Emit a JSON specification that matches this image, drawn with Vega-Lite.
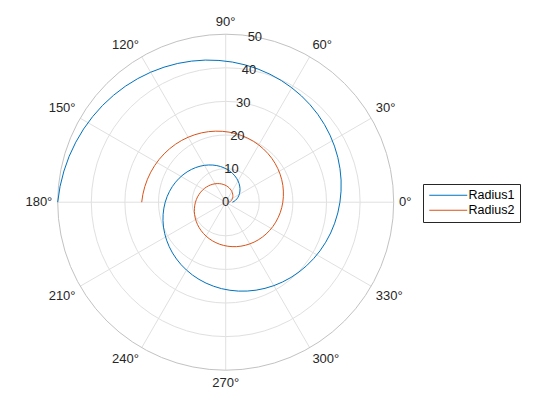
{
  "$schema": "https://vega.github.io/schema/vega-lite/v6.json",
  "width": 560,
  "height": 420,
  "padding": 0,
  "autosize": {"type": "none"},
  "background": "white",
  "config": {"view": {"stroke": null}, "font": "Liberation Sans"},
  "datasets": {
    "spiral": [
      {"t":0,"Radius1":2,"Radius2":1},{"t":5.45,"Radius1":2.48,"Radius2":1.24},{"t":10.91,"Radius1":2.97,"Radius2":1.48},{"t":16.36,"Radius1":3.45,"Radius2":1.73},{"t":21.82,"Radius1":3.94,"Radius2":1.97},
      {"t":27.27,"Radius1":4.42,"Radius2":2.21},{"t":32.73,"Radius1":4.91,"Radius2":2.45},{"t":38.18,"Radius1":5.39,"Radius2":2.7},{"t":43.64,"Radius1":5.88,"Radius2":2.94},{"t":49.09,"Radius1":6.36,"Radius2":3.18},
      {"t":54.55,"Radius1":6.85,"Radius2":3.42},{"t":60,"Radius1":7.33,"Radius2":3.67},{"t":65.45,"Radius1":7.82,"Radius2":3.91},{"t":70.91,"Radius1":8.3,"Radius2":4.15},{"t":76.36,"Radius1":8.79,"Radius2":4.39},
      {"t":81.82,"Radius1":9.27,"Radius2":4.64},{"t":87.27,"Radius1":9.76,"Radius2":4.88},{"t":92.73,"Radius1":10.24,"Radius2":5.12},{"t":98.18,"Radius1":10.73,"Radius2":5.36},{"t":103.64,"Radius1":11.21,"Radius2":5.61},
      {"t":109.09,"Radius1":11.7,"Radius2":5.85},{"t":114.55,"Radius1":12.18,"Radius2":6.09},{"t":120,"Radius1":12.67,"Radius2":6.33},{"t":125.45,"Radius1":13.15,"Radius2":6.58},{"t":130.91,"Radius1":13.64,"Radius2":6.82},
      {"t":136.36,"Radius1":14.12,"Radius2":7.06},{"t":141.82,"Radius1":14.61,"Radius2":7.3},{"t":147.27,"Radius1":15.09,"Radius2":7.55},{"t":152.73,"Radius1":15.58,"Radius2":7.79},{"t":158.18,"Radius1":16.06,"Radius2":8.03},
      {"t":163.64,"Radius1":16.55,"Radius2":8.27},{"t":169.09,"Radius1":17.03,"Radius2":8.52},{"t":174.55,"Radius1":17.52,"Radius2":8.76},{"t":180,"Radius1":18,"Radius2":9},{"t":185.45,"Radius1":18.48,"Radius2":9.24},
      {"t":190.91,"Radius1":18.97,"Radius2":9.48},{"t":196.36,"Radius1":19.45,"Radius2":9.73},{"t":201.82,"Radius1":19.94,"Radius2":9.97},{"t":207.27,"Radius1":20.42,"Radius2":10.21},{"t":212.73,"Radius1":20.91,"Radius2":10.45},
      {"t":218.18,"Radius1":21.39,"Radius2":10.7},{"t":223.64,"Radius1":21.88,"Radius2":10.94},{"t":229.09,"Radius1":22.36,"Radius2":11.18},{"t":234.55,"Radius1":22.85,"Radius2":11.42},{"t":240,"Radius1":23.33,"Radius2":11.67},
      {"t":245.45,"Radius1":23.82,"Radius2":11.91},{"t":250.91,"Radius1":24.3,"Radius2":12.15},{"t":256.36,"Radius1":24.79,"Radius2":12.39},{"t":261.82,"Radius1":25.27,"Radius2":12.64},{"t":267.27,"Radius1":25.76,"Radius2":12.88},
      {"t":272.73,"Radius1":26.24,"Radius2":13.12},{"t":278.18,"Radius1":26.73,"Radius2":13.36},{"t":283.64,"Radius1":27.21,"Radius2":13.61},{"t":289.09,"Radius1":27.7,"Radius2":13.85},{"t":294.55,"Radius1":28.18,"Radius2":14.09},
      {"t":300,"Radius1":28.67,"Radius2":14.33},{"t":305.45,"Radius1":29.15,"Radius2":14.58},{"t":310.91,"Radius1":29.64,"Radius2":14.82},{"t":316.36,"Radius1":30.12,"Radius2":15.06},{"t":321.82,"Radius1":30.61,"Radius2":15.3},
      {"t":327.27,"Radius1":31.09,"Radius2":15.55},{"t":332.73,"Radius1":31.58,"Radius2":15.79},{"t":338.18,"Radius1":32.06,"Radius2":16.03},{"t":343.64,"Radius1":32.55,"Radius2":16.27},{"t":349.09,"Radius1":33.03,"Radius2":16.52},
      {"t":354.55,"Radius1":33.52,"Radius2":16.76},{"t":360,"Radius1":34,"Radius2":17},{"t":365.45,"Radius1":34.48,"Radius2":17.24},{"t":370.91,"Radius1":34.97,"Radius2":17.48},{"t":376.36,"Radius1":35.45,"Radius2":17.73},
      {"t":381.82,"Radius1":35.94,"Radius2":17.97},{"t":387.27,"Radius1":36.42,"Radius2":18.21},{"t":392.73,"Radius1":36.91,"Radius2":18.45},{"t":398.18,"Radius1":37.39,"Radius2":18.7},{"t":403.64,"Radius1":37.88,"Radius2":18.94},
      {"t":409.09,"Radius1":38.36,"Radius2":19.18},{"t":414.55,"Radius1":38.85,"Radius2":19.42},{"t":420,"Radius1":39.33,"Radius2":19.67},{"t":425.45,"Radius1":39.82,"Radius2":19.91},{"t":430.91,"Radius1":40.3,"Radius2":20.15},
      {"t":436.36,"Radius1":40.79,"Radius2":20.39},{"t":441.82,"Radius1":41.27,"Radius2":20.64},{"t":447.27,"Radius1":41.76,"Radius2":20.88},{"t":452.73,"Radius1":42.24,"Radius2":21.12},{"t":458.18,"Radius1":42.73,"Radius2":21.36},
      {"t":463.64,"Radius1":43.21,"Radius2":21.61},{"t":469.09,"Radius1":43.7,"Radius2":21.85},{"t":474.55,"Radius1":44.18,"Radius2":22.09},{"t":480,"Radius1":44.67,"Radius2":22.33},{"t":485.45,"Radius1":45.15,"Radius2":22.58},
      {"t":490.91,"Radius1":45.64,"Radius2":22.82},{"t":496.36,"Radius1":46.12,"Radius2":23.06},{"t":501.82,"Radius1":46.61,"Radius2":23.3},{"t":507.27,"Radius1":47.09,"Radius2":23.55},{"t":512.73,"Radius1":47.58,"Radius2":23.79},
      {"t":518.18,"Radius1":48.06,"Radius2":24.03},{"t":523.64,"Radius1":48.55,"Radius2":24.27},{"t":529.09,"Radius1":49.03,"Radius2":24.52},{"t":534.55,"Radius1":49.52,"Radius2":24.76},{"t":540,"Radius1":50,"Radius2":25}
    ],
    "rings": [{"r":10},{"r":20},{"r":30},{"r":40}],
    "outer": [{"r":50}],
    "angles": [
      {"a":0,"label":"0°"},{"a":30,"label":"30°"},{"a":60,"label":"60°"},{"a":90,"label":"90°"},
      {"a":120,"label":"120°"},{"a":150,"label":"150°"},{"a":180,"label":"180°"},{"a":210,"label":"210°"},
      {"a":240,"label":"240°"},{"a":270,"label":"270°"},{"a":300,"label":"300°"},{"a":330,"label":"330°"}
    ],
    "rticks": [{"v":0,"label":"0"},{"v":10,"label":"10"},{"v":20,"label":"20"},{"v":30,"label":"30"},{"v":40,"label":"40"},{"v":50,"label":"50"}]
  },
  "layer": [
    {
      "data": {"name": "rings"},
      "transform": [{"calculate": "0", "as": "cx"}, {"calculate": "0", "as": "cy"}],
      "mark": {"type": "point", "shape": "circle", "filled": false, "stroke": "#e0e0e0", "strokeWidth": 1, "opacity": 1},
      "encoding": {
        "x": {"field": "cx", "type": "quantitative", "scale": {"domain": [-67.17, 99.49], "nice": false, "zero": false}, "axis": null},
        "y": {"field": "cy", "type": "quantitative", "scale": {"domain": [-64.82, 60.18], "nice": false, "zero": false}, "axis": null},
        "size": {"field": "r", "type": "quantitative", "scale": {"type": "pow", "exponent": 2, "domain": [0, 50], "range": [0, 112896], "zero": true}, "legend": null}
      }
    },
    {
      "data": {"name": "angles"},
      "transform": [
        {"calculate": "0", "as": "cx"},
        {"calculate": "0", "as": "cy"},
        {"calculate": "50*cos(datum.a*PI/180)", "as": "ex"},
        {"calculate": "50*sin(datum.a*PI/180)", "as": "ey"}
      ],
      "mark": {"type": "rule", "stroke": "#e0e0e0", "strokeWidth": 1},
      "encoding": {
        "x": {"field": "cx", "type": "quantitative", "scale": {"domain": [-67.17, 99.49], "nice": false, "zero": false}, "axis": null},
        "y": {"field": "cy", "type": "quantitative", "scale": {"domain": [-64.82, 60.18], "nice": false, "zero": false}, "axis": null},
        "x2": {"field": "ex"},
        "y2": {"field": "ey"}
      }
    },
    {
      "data": {"name": "outer"},
      "transform": [{"calculate": "0", "as": "cx"}, {"calculate": "0", "as": "cy"}],
      "mark": {"type": "point", "shape": "circle", "filled": false, "stroke": "#c2c2c2", "strokeWidth": 1, "opacity": 1},
      "encoding": {
        "x": {"field": "cx", "type": "quantitative", "scale": {"domain": [-67.17, 99.49], "nice": false, "zero": false}, "axis": null},
        "y": {"field": "cy", "type": "quantitative", "scale": {"domain": [-64.82, 60.18], "nice": false, "zero": false}, "axis": null},
        "size": {"field": "r", "type": "quantitative", "scale": {"type": "pow", "exponent": 2, "domain": [0, 50], "range": [0, 112896], "zero": true}, "legend": null}
      }
    },
    {
      "data": {"name": "spiral"},
      "transform": [
        {"fold": ["Radius1", "Radius2"], "as": ["series", "r"]},
        {"calculate": "datum.r*cos(datum.t*PI/180)", "as": "px"},
        {"calculate": "datum.r*sin(datum.t*PI/180)", "as": "py"}
      ],
      "mark": {"type": "line", "strokeWidth": 1},
      "encoding": {
        "x": {"field": "px", "type": "quantitative", "scale": {"domain": [-67.17, 99.49], "nice": false, "zero": false}, "axis": null},
        "y": {"field": "py", "type": "quantitative", "scale": {"domain": [-64.82, 60.18], "nice": false, "zero": false}, "axis": null},
        "order": {"field": "t", "type": "quantitative"},
        "color": {
          "field": "series", "type": "nominal",
          "scale": {"domain": ["Radius1", "Radius2"], "range": ["#0072BD", "#D95319"]},
          "legend": {
            "orient": "none", "legendX": 423, "legendY": 184, "title": null,
            "symbolType": "M-1,0H6.6", "symbolSize": 100, "symbolStrokeWidth": 1,
            "labelFont": "Liberation Sans", "labelFontSize": 12.5, "labelColor": "#000000",
            "labelOffset": 28, "rowPadding": 2, "padding": 5,
            "strokeColor": "#262626", "fillColor": "#ffffff", "cornerRadius": 0,
            "labelExpr": "datum.label + '\u2003'"
          }
        }
      }
    },
    {
      "data": {"name": "angles"},
      "transform": [
        {"calculate": "cos(datum.a*PI/180)", "as": "c"},
        {"calculate": "sin(datum.a*PI/180)", "as": "s"},
        {"calculate": "51.6*datum.c", "as": "lx"},
        {"calculate": "51.6*datum.s + (datum.s > 0.01 ? 2.1 : (datum.s < -0.01 ? -2.1 : 0))", "as": "ly"},
        {"filter": "datum.c > 0.01"}
      ],
      "mark": {"type": "text", "align": "left", "baseline": "middle", "font": "Liberation Sans", "fontSize": 13, "color": "#262626"},
      "encoding": {
        "x": {"field": "lx", "type": "quantitative", "scale": {"domain": [-67.17, 99.49], "nice": false, "zero": false}, "axis": null},
        "y": {"field": "ly", "type": "quantitative", "scale": {"domain": [-64.82, 60.18], "nice": false, "zero": false}, "axis": null},
        "text": {"field": "label", "type": "nominal"}
      }
    },
    {
      "data": {"name": "angles"},
      "transform": [
        {"calculate": "cos(datum.a*PI/180)", "as": "c"},
        {"calculate": "sin(datum.a*PI/180)", "as": "s"},
        {"calculate": "51.6*datum.c", "as": "lx"},
        {"calculate": "51.6*datum.s + (datum.s > 0.01 ? 2.1 : (datum.s < -0.01 ? -2.1 : 0))", "as": "ly"},
        {"filter": "datum.c < -0.01"}
      ],
      "mark": {"type": "text", "align": "right", "baseline": "middle", "font": "Liberation Sans", "fontSize": 13, "color": "#262626"},
      "encoding": {
        "x": {"field": "lx", "type": "quantitative", "scale": {"domain": [-67.17, 99.49], "nice": false, "zero": false}, "axis": null},
        "y": {"field": "ly", "type": "quantitative", "scale": {"domain": [-64.82, 60.18], "nice": false, "zero": false}, "axis": null},
        "text": {"field": "label", "type": "nominal"}
      }
    },
    {
      "data": {"name": "angles"},
      "transform": [
        {"calculate": "cos(datum.a*PI/180)", "as": "c"},
        {"calculate": "sin(datum.a*PI/180)", "as": "s"},
        {"calculate": "0", "as": "lx"},
        {"calculate": "datum.s > 0 ? 53.7 : -53.7", "as": "ly"},
        {"filter": "abs(datum.c) <= 0.01"}
      ],
      "mark": {"type": "text", "align": "center", "baseline": "middle", "font": "Liberation Sans", "fontSize": 13, "color": "#262626"},
      "encoding": {
        "x": {"field": "lx", "type": "quantitative", "scale": {"domain": [-67.17, 99.49], "nice": false, "zero": false}, "axis": null},
        "y": {"field": "ly", "type": "quantitative", "scale": {"domain": [-64.82, 60.18], "nice": false, "zero": false}, "axis": null},
        "text": {"field": "label", "type": "nominal"}
      }
    },
    {
      "data": {"name": "rticks"},
      "transform": [
        {"calculate": "datum.v*cos(80*PI/180)", "as": "tx"},
        {"calculate": "datum.v*sin(80*PI/180)", "as": "ty"}
      ],
      "mark": {"type": "text", "align": "center", "baseline": "middle", "font": "Liberation Sans", "fontSize": 13, "color": "#262626"},
      "encoding": {
        "x": {"field": "tx", "type": "quantitative", "scale": {"domain": [-67.17, 99.49], "nice": false, "zero": false}, "axis": null},
        "y": {"field": "ty", "type": "quantitative", "scale": {"domain": [-64.82, 60.18], "nice": false, "zero": false}, "axis": null},
        "text": {"field": "label", "type": "nominal"}
      }
    }
  ]
}
